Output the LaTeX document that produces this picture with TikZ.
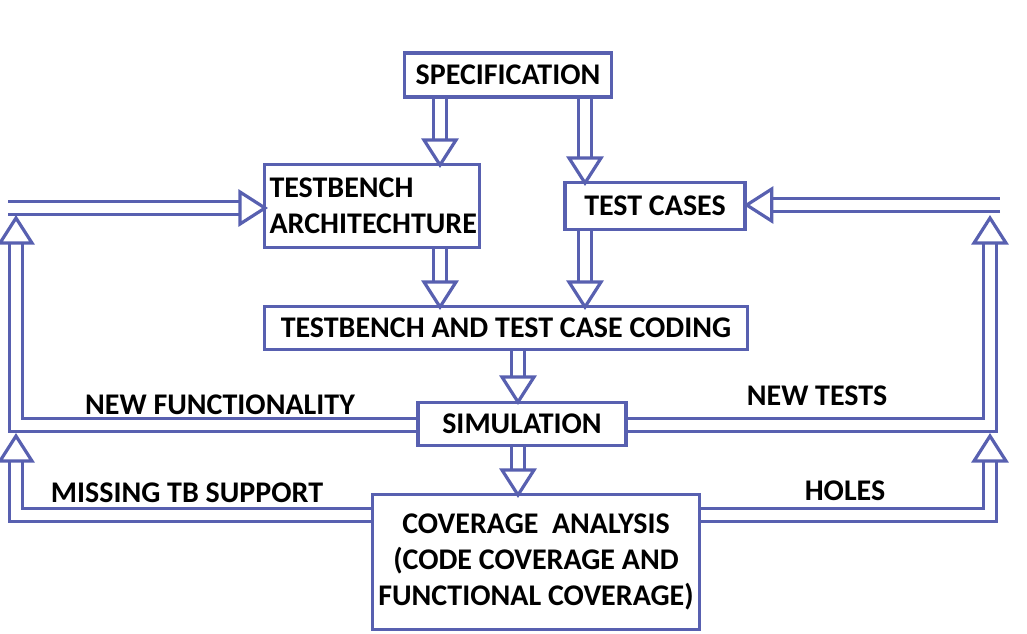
\documentclass[tikz,border=0pt]{standalone}
\usepackage{fontspec}
\setmainfont{Carlito}
\begin{document}
\begin{tikzpicture}[x=0.75pt,y=-0.75pt,
 box/.style={draw=bl,line width=2.6pt,inner sep=0pt,font=\bfseries\fontsize{22.5}{27}\selectfont},
 shaft/.style={draw=bl,line width=2.4pt,double=white,double distance=7pt,line join=miter},
 lab/.style={font=\bfseries\fontsize{22.5}{27}\selectfont},
 ahead/.pic={\draw[draw=bl,fill=white,line width=2.4pt,line join=miter] (0,0) -- (-25,16) -- (-25,-16) -- cycle;}]
\definecolor{bl}{RGB}{88,96,176}
\useasboundingbox (0,0) rectangle (1027,633);
\node[box,minimum width=207pt*0.75,minimum height=44pt*0.75] (spec) at (508,75) {SPECIFICATION};
\node[box,minimum width=215pt*0.75,minimum height=83pt*0.75,align=left,text width=205pt*0.75] (arch) at (372,206) {TESTBENCH\\ARCHITECHTURE};
\node[box,minimum width=180pt*0.75,minimum height=47pt*0.75] (tc) at (655,206) {TEST CASES};
\node[box,minimum width=483pt*0.75,minimum height=43pt*0.75] (code) at (506,328) {TESTBENCH AND TEST CASE CODING};
\node[box,minimum width=208pt*0.75,minimum height=43pt*0.75] (sim) at (522,424) {SIMULATION};
\node[box,minimum width=327pt*0.75,minimum height=135pt*0.75,align=center] (cov) at (536,562) {COVERAGE\ \ ANALYSIS\\(CODE COVERAGE AND\\FUNCTIONAL COVERAGE)};
\node[lab] (nf) at (220,405) {NEW FUNCTIONALITY};
\node[lab] (mt) at (187,493) {MISSING TB SUPPORT};
\node[lab] (nt) at (817,396) {NEW TESTS};
\node[lab] (ho) at (845,491) {HOLES};
% coordinates
\coordinate (l1) at (16,425); \coordinate (l2) at (16,240);
\coordinate (l3) at (16,515); \coordinate (l4) at (16,458);
\coordinate (r1) at (990,425); \coordinate (r2) at (990,240);
\coordinate (r3) at (990,515); \coordinate (r4) at (990,458);
\coordinate (t0) at (1000,205); \coordinate (t1) at (768,205);
\coordinate (a0) at (8,208); \coordinate (a1) at (242,208);
% vertical arrows
\draw[shaft] (spec.south-|440,0) -- (440,142); \pic at (440,165) [rotate=-90] {ahead};
\draw[shaft] (spec.south-|585,0) -- (585,160); \pic at (585,183) [rotate=-90] {ahead};
\draw[shaft] (arch.south-|440,0) -- (440,284); \pic at (440,307) [rotate=-90] {ahead};
\draw[shaft] (tc.south-|585,0) -- (585,284); \pic at (585,307) [rotate=-90] {ahead};
\draw[shaft] (code.south-|518,0) -- (518,379); \pic at (518,402) [rotate=-90] {ahead};
\draw[shaft] (sim.south-|518,0) -- (518,472); \pic at (518,495) [rotate=-90] {ahead};
% loops
\draw[shaft] (a0) -- (a1); \pic at (265,208) {ahead};
\draw[shaft] (sim.west|-l1) -- (l1) -- (l2); \pic at (16,218) [rotate=90] {ahead};
\draw[shaft] (cov.west|-l3) -- (l3) -- (l4); \pic at (16,436) [rotate=90] {ahead};
\draw[shaft] (sim.east|-r1) -- (r1) -- (r2); \pic at (990,218) [rotate=90] {ahead};
\draw[shaft] (cov.east|-r3) -- (r3) -- (r4); \pic at (990,436) [rotate=90] {ahead};
\draw[shaft] (t0) -- (t1); \pic at (tc.east|-t1) [rotate=180] {ahead};
\end{tikzpicture}
\end{document}
